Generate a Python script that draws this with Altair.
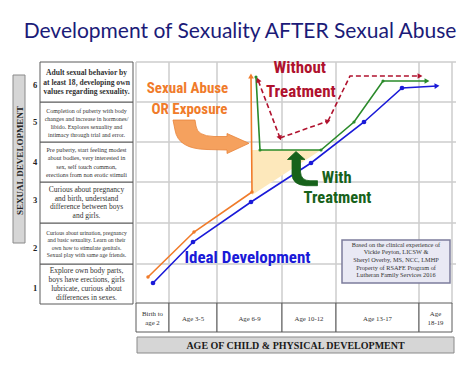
import math
import altair as alt
import pandas as pd

# ---------------------------------------------------------------------------
# Data. Canvas units follow the reference
# image (x to the right, y downwards).
# ---------------------------------------------------------------------------
title_text = "Development of Sexuality AFTER Sexual Abuse"

level_numbers = ["1", "2", "3", "4", "5", "6"]
level_number_y = [288, 248, 200, 162, 122, 85]
level_edges = [304, 264, 223, 182, 142, 102, 62]  # bottom of level 1 ... top of level 6

level_descriptions = [
    ["Explore own body parts,", "boys have erections, girls", "lubricate, curious about", "differences in sexes."],
    ["Curious about urination, pregnancy", "and basic sexuality. Learn on their",
     "own how to stimulate genitals.", "Sexual play with same age friends."],
    ["Curious about pregnancy", "and birth,  understand", "difference between boys", "and girls."],
    ["Pre puberty, start feeling modest", "about bodies, very interested in",
     "sex, self touch common,", "erections from non erotic stimuli"],
    ["Completion of puberty with body", "changes and increase in hormones/",
     "libido. Explores sexuality and", "intimacy through trial and error."],
    ["Adult sexual behavior by", "at least 18, developing own", "values regarding sexuality."],
]
age_labels = [["Birth to", "age 2"], ["Age 3-5"], ["Age 6-9"], ["Age 10-12"], ["Age 13-17"], ["Age", "18-19"]]
age_edges = [136, 169, 217, 282, 336, 419, 452]

ideal_x = [153, 193, 251, 311, 364, 402, 437]
ideal_y = [283, 242, 202, 163, 122, 88, 86]
abuse_x = [148, 194, 252, 251]
abuse_y = [277, 232, 192, 76]
treated_x = [256, 260, 321, 354, 383, 427]
treated_y = [77, 150, 150, 122, 81, 81]
untreated_paths_x = [[280, 258], [280, 328], [328, 350, 420]]
untreated_paths_y = [[138, 80], [138, 121], [121, 76, 76]]
gap_x = [252, 321]
gap_top = [150, 150]
gap_bottom = [195, 150]

note_lines = ["Based on the clinical experience of", "Vickie Peyton, LICSW  &",
              "Sheryl Overby, MS, NCC, LMHP", "Property of RSAFE Program of",
              "Lutheran Family Services  2016"]

# ---------------------------------------------------------------------------
NAVY = "#1b1b78"
BLUE = "#1a1ad8"
ORANGE = "#f07b2a"
GREEN = "#2a8a2a"
DKGREEN = "#17621b"
RED = "#b0122e"
GRID = "#cdcdcd"
SERIF = "Liberation Serif, Times New Roman, serif"
NARROW = "Liberation Sans Narrow, Arial Narrow, Roboto Condensed, Liberation Sans, sans-serif"
TITLEFONT = "Lato, Liberation Sans, sans-serif"

xs = alt.Scale(domain=[8, 466], nice=False)
ys = alt.Scale(domain=[8, 358], nice=False, reverse=True)


def X(f="x"):
    return alt.X(f + ":Q", scale=xs, axis=None)


def Y(f="y"):
    return alt.Y(f + ":Q", scale=ys, axis=None)


def angle(x0, y0, x1, y1):
    return math.degrees(math.atan2(x1 - x0, -(y1 - y0))) % 360


def shape_path(outline, cx, cy, half):
    parts = []
    for cmd, *pts in outline:
        parts.append(cmd + " " + " ".join(f"{(px - cx) / half:.3f} {(py - cy) / half:.3f}" for px, py in pts))
    return " ".join(parts) + " Z"


layers = []

# grid
hgrid = pd.DataFrame({"x": 136, "x2": 456, "y": level_edges[1:]})
vgrid = pd.DataFrame({"x": age_edges, "y": 62, "y2": 304})
layers.append(alt.Chart(hgrid).mark_rule(color=GRID, strokeWidth=1.5).encode(X(), alt.X2("x2:Q"), Y()))
layers.append(alt.Chart(vgrid).mark_rule(color=GRID, strokeWidth=1.5).encode(X(), Y(), alt.Y2("y2:Q")))

# shaded gap
gap = pd.DataFrame({"x": gap_x, "y": gap_top, "y2": gap_bottom})
layers.append(alt.Chart(gap).mark_area(color="#fde8bb", opacity=1).encode(X(), Y(), alt.Y2("y2:Q")))


def line_df(xv, yv):
    return pd.DataFrame({"x": xv, "y": yv, "i": range(len(xv))})


for xv, yv, col, w in [(ideal_x, ideal_y, BLUE, 1.6), (abuse_x, abuse_y, ORANGE, 1.6), (treated_x, treated_y, GREEN, 1.6)]:
    layers.append(alt.Chart(line_df(xv, yv)).mark_line(color=col, strokeWidth=w).encode(X(), Y(), order="i:Q"))

rows = []
for p, (xv, yv) in enumerate(zip(untreated_paths_x, untreated_paths_y)):
    for i, (a, b) in enumerate(zip(xv, yv)):
        rows.append({"x": a, "y": b, "i": i, "p": p})
layers.append(alt.Chart(pd.DataFrame(rows)).mark_line(color=RED, strokeWidth=1.6, strokeDash=[5, 3]).encode(
    X(), Y(), order="i:Q", detail="p:N"))

# dots
for xv, yv, col, s in [(ideal_x[:-1], ideal_y[:-1], BLUE, 22), (abuse_x[:-1], abuse_y[:-1], ORANGE, 12),
                       (treated_x[:-1], treated_y[:-1], GREEN, 10)]:
    layers.append(alt.Chart(pd.DataFrame({"x": xv, "y": yv})).mark_circle(color=col, size=s, opacity=1).encode(X(), Y()))

# arrow heads
heads = []


def add_head(xv, yv, col, rev=False):
    if rev:
        xv, yv = xv[::-1], yv[::-1]
    heads.append({"x": xv[-1], "y": yv[-1], "a": angle(xv[-2], yv[-2], xv[-1], yv[-1]), "c": col})


add_head(ideal_x, ideal_y, BLUE)
add_head(abuse_x, abuse_y, ORANGE)
add_head(treated_x, treated_y, GREEN)
for xv, yv in zip(untreated_paths_x, untreated_paths_y):
    add_head(xv, yv, RED)
add_head(untreated_paths_x[0], untreated_paths_y[0], RED, rev=True)
layers.append(alt.Chart(pd.DataFrame(heads)).mark_point(shape="triangle-up", filled=True, size=32, opacity=1).encode(
    X(), Y(), angle=alt.Angle("a:Q", scale=None), color=alt.Color("c:N", scale=None)))

# curved block arrows
orange_outline = [("M", (173, 120)), ("L", (175, 130)), ("Q", (178, 149), (207, 149.5)), ("L", (227, 150)),
                  ("L", (227, 153.5)), ("L", (249, 143.3)), ("L", (227, 133.5)), ("L", (227, 136.5)),
                  ("L", (214, 136.5)), ("Q", (197, 136), (196, 126)), ("L", (195, 120))]
green_outline = [("M", (296, 151.5)), ("L", (305, 159.5)), ("L", (300.5, 159.5)), ("L", (300.5, 172)),
                 ("Q", (301, 180.7), (310, 180.7)), ("L", (317.5, 180.7)), ("L", (317.5, 185.7)),
                 ("L", (306, 185.7)), ("Q", (292.2, 185), (292, 174)), ("L", (292, 159.5)), ("L", (287.5, 159.5))]
for outline, cx, cy, half, fill, stroke in [(orange_outline, 211, 136.5, 40, "#f5a15e", "#e8843a"),
                                            (green_outline, 302.5, 168.5, 18, DKGREEN, DKGREEN)]:
    layers.append(alt.Chart(pd.DataFrame({"x": [cx], "y": [cy]})).mark_point(
        shape=shape_path(outline, cx, cy, half), size=(2 * half) ** 2, filled=True, fill=fill,
        stroke=stroke, strokeWidth=0.8, opacity=1).encode(X(), Y()))

# boxes
cells = pd.DataFrame({"x": 40, "x2": 133, "y": level_edges[1:], "y2": level_edges[:-1]})
layers.append(alt.Chart(cells).mark_rect(fill="white", stroke="#5a5a5a", strokeWidth=1).encode(
    X(), alt.X2("x2:Q"), Y(), alt.Y2("y2:Q")))
ages = pd.DataFrame({"x": age_edges[:-1], "x2": age_edges[1:], "y": 303, "y2": 332})
layers.append(alt.Chart(ages).mark_rect(fill="white", stroke="#5a5a5a", strokeWidth=1).encode(
    X(), alt.X2("x2:Q"), Y(), alt.Y2("y2:Q")))
grayboxes = pd.DataFrame({"x": [13, 137], "x2": [25, 454], "y": [75, 337], "y2": [243, 353]})
layers.append(alt.Chart(grayboxes).mark_rect(fill="#d6d6d6", stroke="#8a8a8a", strokeWidth=1).encode(
    X(), alt.X2("x2:Q"), Y(), alt.Y2("y2:Q")))
notebox = pd.DataFrame({"x": [342], "x2": [450], "y": [240], "y2": [283]})
layers.append(alt.Chart(notebox).mark_rect(fill="#e9e9f4", stroke="#7c7c9c", strokeWidth=1.5).encode(
    X(), alt.X2("x2:Q"), Y(), alt.Y2("y2:Q")))


# texts
def text_layer(df, **kw):
    base = dict(align="center", baseline="middle")
    base.update(kw)
    return alt.Chart(df).mark_text(**base).encode(X(), Y(), text="t:N")


layers.append(text_layer(pd.DataFrame({"x": [240], "y": [38], "t": [title_text]}), baseline="alphabetic",
                         font=TITLEFONT, fontSize=21, color=NAVY))
layers.append(text_layer(pd.DataFrame({"x": [19.5], "y": [160.5], "t": ["SEXUAL    DEVELOPMENT"]}),
                         font=SERIF, fontSize=9, fontWeight="bold", color="#222222", angle=270))
layers.append(text_layer(pd.DataFrame({"x": 35, "y": level_number_y, "t": level_numbers}),
                         font=SERIF, fontSize=8.5, fontWeight="bold", color="#222222"))

desc_style = [(7.5, 8.7, "normal"), (5.7, 7.6, "normal"), (7.5, 8.7, "normal"),
              (6.2, 8.3, "normal"), (6.0, 8.0, "normal"), (7.6, 9.7, "bold")]
for lv, lines in enumerate(level_descriptions):
    fs, lh, fw = desc_style[lv]
    cy = (level_edges[lv] + level_edges[lv + 1]) / 2 + 0.5
    n = len(lines)
    df = pd.DataFrame({"x": 86.5, "y": [cy + (k - (n - 1) / 2) * lh for k in range(n)], "t": lines})
    layers.append(text_layer(df, font=SERIF, fontSize=fs, fontWeight=fw, color="#333333"))

rows = []
for k, lines in enumerate(age_labels):
    cx = (age_edges[k] + age_edges[k + 1]) / 2
    n = len(lines)
    for j, t in enumerate(lines):
        rows.append({"x": cx, "y": 318.5 + (j - (n - 1) / 2) * 8.4, "t": t})
layers.append(text_layer(pd.DataFrame(rows), font=SERIF, fontSize=6.8, color="#333333"))
layers.append(text_layer(pd.DataFrame({"x": [295.5], "y": [345.5], "t": ["AGE OF CHILD & PHYSICAL DEVELOPMENT"]}),
                         font=SERIF, fontSize=10, fontWeight="bold", color="#1a1a1a"))
layers.append(text_layer(pd.DataFrame({"x": 396, "y": [245, 252.4, 260, 267.6, 275.4], "t": note_lines}),
                         font=SERIF, fontSize=6.3, color="#333333"))

annos = [
    (["Sexual Abuse", "OR Exposure"], [187.5, 189.5], [93.3, 114.3], ORANGE, 15),
    (["Without", "Treatment"], [299.7, 300.8], [73.3, 96.7], RED, 17),
    (["With", "Treatment"], [336.7, 337.5], [183.3, 203.3], DKGREEN, 16.5),
    (["Ideal Development"], [247.5], [263.3], BLUE, 17),
]
for t, xv, yv, col, fs in annos:
    layers.append(text_layer(pd.DataFrame({"x": xv, "y": yv, "t": t}), baseline="alphabetic",
                             font=NARROW, fontSize=fs, fontWeight="bold", color=col))

chart = alt.layer(*layers).properties(
    width=458, height=350, padding=0, autosize=alt.AutoSizeParams(type="none"), background="white"
).configure_view(stroke=None)

chart.save("out.html", embed_options={"renderer": "svg", "actions": False})
